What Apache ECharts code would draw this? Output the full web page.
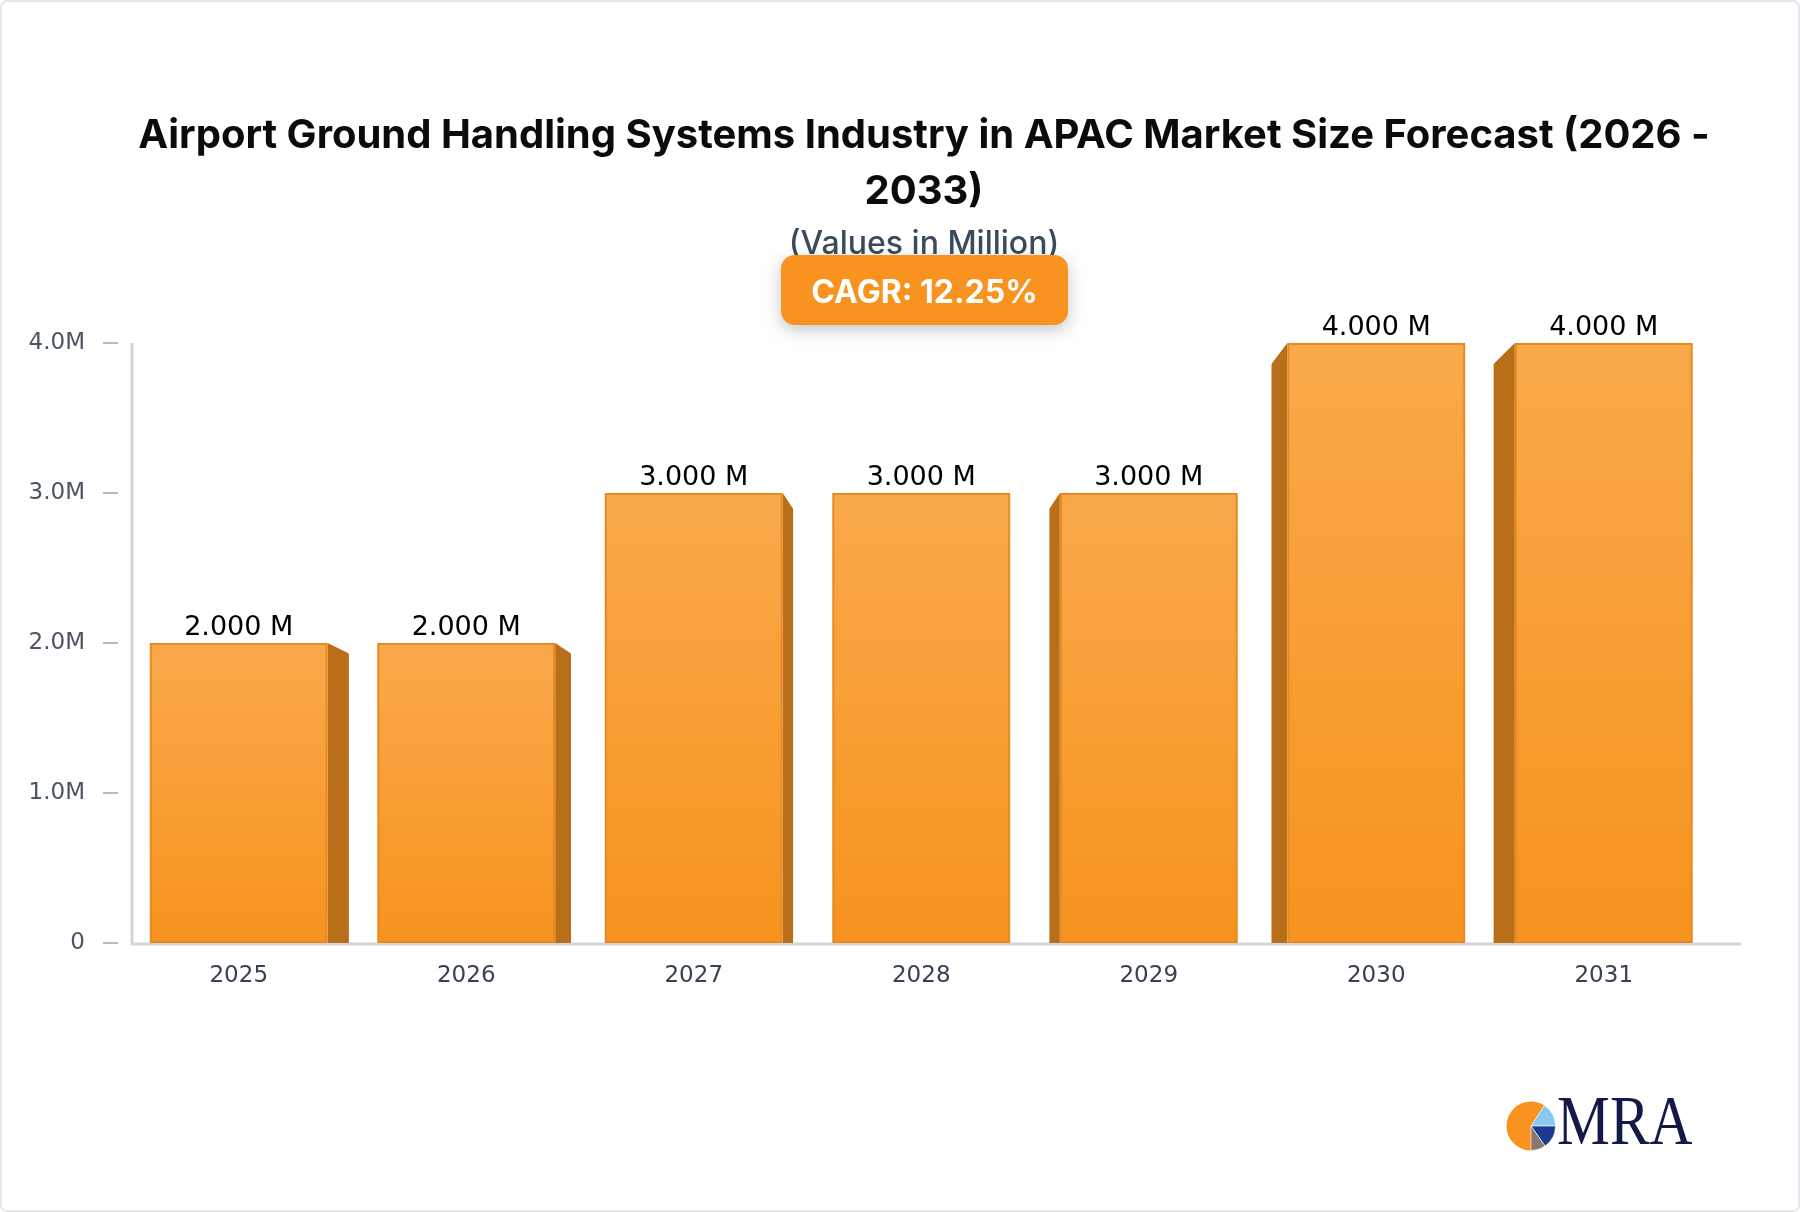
<!DOCTYPE html>
<html>
<head>
<meta charset="utf-8">
<script src="https://cdn.jsdelivr.net/npm/echarts@6/dist/echarts.min.js"></script>
<style>
html,body{margin:0;padding:0;background:#ffffff;}
#chart{width:1800px;height:1212px;}
</style>
</head>
<body>
<div id="chart"></div>
<script>
// ---- data ----
const categories = ['2025', '2026', '2027', '2028', '2029', '2030', '2031'];
const values = [2, 2, 3, 3, 3, 4, 4];          // million
const yAxisMin = 0;
const yAxisMax = 4;
const yAxisStep = 1;
const titleText = 'Airport Ground Handling Systems Industry in APAC Market Size Forecast (2026 -\n2033)';
const subtitleText = '(Values in Million)';
const cagrText = 'CAGR: 12.25%';
const logoText = 'MRA';

// ---- styles ----
const frontTop = '#F9A94B';
const frontBottom = '#F7931E';
const frontBorder = '#E8891F';
const sideColor = '#B96F1A';
const axisGray = '#D1D5DB';

const chart = echarts.init(document.getElementById('chart'), null, {renderer: 'canvas'});

const FRONT_RATIO = 0.782;

function renderSide(params, api) {
  const i = api.value(0);
  const v = api.value(1);
  const top = api.coord([i, v]);
  const base = api.coord([i, 0]);
  const band = api.size([1, 0])[0];
  const fw = band * FRONT_RATIO;
  const mid = (categories.length - 1) / 2;
  const d = Math.abs(i - mid);
  if (d === 0) return null;
  const w = 5 + 5.4 * d;
  const drop = 0.035 * (base[1] - top[1]);
  const dir = i < mid ? 1 : -1;
  const edge = top[0] + dir * fw / 2;
  return {
    type: 'polygon',
    shape: {points: [[edge, top[1]], [edge + dir * w, top[1] + drop], [edge + dir * w, base[1]], [edge, base[1]]]},
    style: {fill: sideColor}
  };
}

const option = {
  backgroundColor: '#ffffff',
  animation: false,
  grid: {left: 125, right: 82.5, top: 343, bottom: 269},
  xAxis: {
    type: 'category',
    data: categories,
    axisLine: {show: false},
    axisTick: {show: false},
    axisLabel: {margin: 22, fontSize: 23, color: '#374151', fontFamily: 'DejaVu Sans'}
  },
  yAxis: {
    type: 'value',
    min: yAxisMin,
    max: yAxisMax,
    interval: yAxisStep,
    offset: 7,
    axisLine: {show: false},
    axisTick: {show: true, length: 15, lineStyle: {color: '#9CA3AF', width: 1.5}},
    splitLine: {show: false},
    axisLabel: {
      margin: 33, fontSize: 23, color: '#4B5563', fontFamily: 'DejaVu Sans',
      padding: [6, 0, 0, 0],
      formatter: v => v === 0 ? '0' : v.toFixed(1) + 'M'
    }
  },
  series: [
    {
      type: 'custom',
      z: 1,
      renderItem: renderSide,
      data: values.map((v, i) => [i, v]),
      encode: {x: 0, y: 1},
      silent: true
    },
    {
      type: 'bar',
      z: 2,
      data: values,
      barWidth: (FRONT_RATIO * 100) + '%',
      itemStyle: {
        color: {type: 'linear', x: 0, y: 0, x2: 0, y2: 1,
          colorStops: [{offset: 0, color: frontTop}, {offset: 1, color: frontBottom}]},
        borderColor: frontBorder,
        borderWidth: 2
      },
      label: {
        show: true,
        position: 'top',
        distance: 2,
        fontSize: 27,
        color: '#000000',
        fontFamily: 'DejaVu Sans',
        formatter: p => p.value.toFixed(3) + ' M'
      }
    }
  ],
  graphic: [
    {type: 'rect', silent: true, z: 0, shape: {x: 1, y: 1, width: 1798, height: 1210, r: 6},
      style: {fill: 'none', stroke: '#E5E7EB', lineWidth: 2}},
    {type: 'line', silent: true, shape: {x1: 132, y1: 343, x2: 132, y2: 945},
      style: {stroke: axisGray, lineWidth: 3}},
    {type: 'line', silent: true, shape: {x1: 131, y1: 944, x2: 1741, y2: 944},
      style: {stroke: axisGray, lineWidth: 3}},
    {type: 'text', silent: true, x: 924, y: 108,
      style: {text: titleText, align: 'center', verticalAlign: 'top', textAlign: 'center',
        fontFamily: 'Inter', fontWeight: 700, fontSize: 40, lineHeight: 56, fill: '#0B0B0B'}},
    {type: 'text', silent: true, x: 924, y: 244,
      style: {text: subtitleText, align: 'center', verticalAlign: 'middle', textAlign: 'center', textVerticalAlign: 'middle',
        fontFamily: 'Inter', fontWeight: 500, fontSize: 32, fill: '#3B4A5E'}},
    {type: 'rect', silent: true, z: 100, shape: {x: 781, y: 255, width: 287, height: 70, r: 14},
      style: {fill: '#F7931E', shadowBlur: 16, shadowColor: 'rgba(0,0,0,0.22)', shadowOffsetY: 5}},
    {type: 'text', silent: true, z: 101, x: 924.5, y: 293,
      style: {text: cagrText, align: 'center', verticalAlign: 'middle', textAlign: 'center', textVerticalAlign: 'middle',
        fontFamily: 'Inter', fontWeight: 700, fontSize: 32, fill: '#FFFFFF'}},
    // logo
    {type: 'sector', silent: true, shape: {cx: 1531, cy: 1126, r: 24.5, r0: 0, startAngle: 90 * Math.PI / 180, endAngle: 303 * Math.PI / 180},
      style: {fill: '#F7931E'}},
    {type: 'sector', silent: true, shape: {cx: 1531, cy: 1126, r: 24.5, r0: 0, startAngle: -57 * Math.PI / 180, endAngle: 0},
      style: {fill: '#86CBEF', stroke: '#ffffff', lineWidth: 0.6}},
    {type: 'sector', silent: true, shape: {cx: 1531, cy: 1126, r: 24.5, r0: 0, startAngle: 0, endAngle: 55 * Math.PI / 180},
      style: {fill: '#1C3A8C', stroke: '#ffffff', lineWidth: 0.6}},
    {type: 'sector', silent: true, shape: {cx: 1531, cy: 1126, r: 24.5, r0: 0, startAngle: 55 * Math.PI / 180, endAngle: 90 * Math.PI / 180},
      style: {fill: '#8A766F', stroke: '#ffffff', lineWidth: 0.6}},
    {type: 'text', silent: true, x: 1557, y: 1126, scaleX: 0.85,
      style: {text: logoText, x: 0, y: 0, align: 'left', verticalAlign: 'middle', textVerticalAlign: 'middle',
        fontFamily: 'Liberation Serif', fontSize: 70, fill: '#141A46'}}
  ]
};

chart.setOption(option);
</script>
</body>
</html>
